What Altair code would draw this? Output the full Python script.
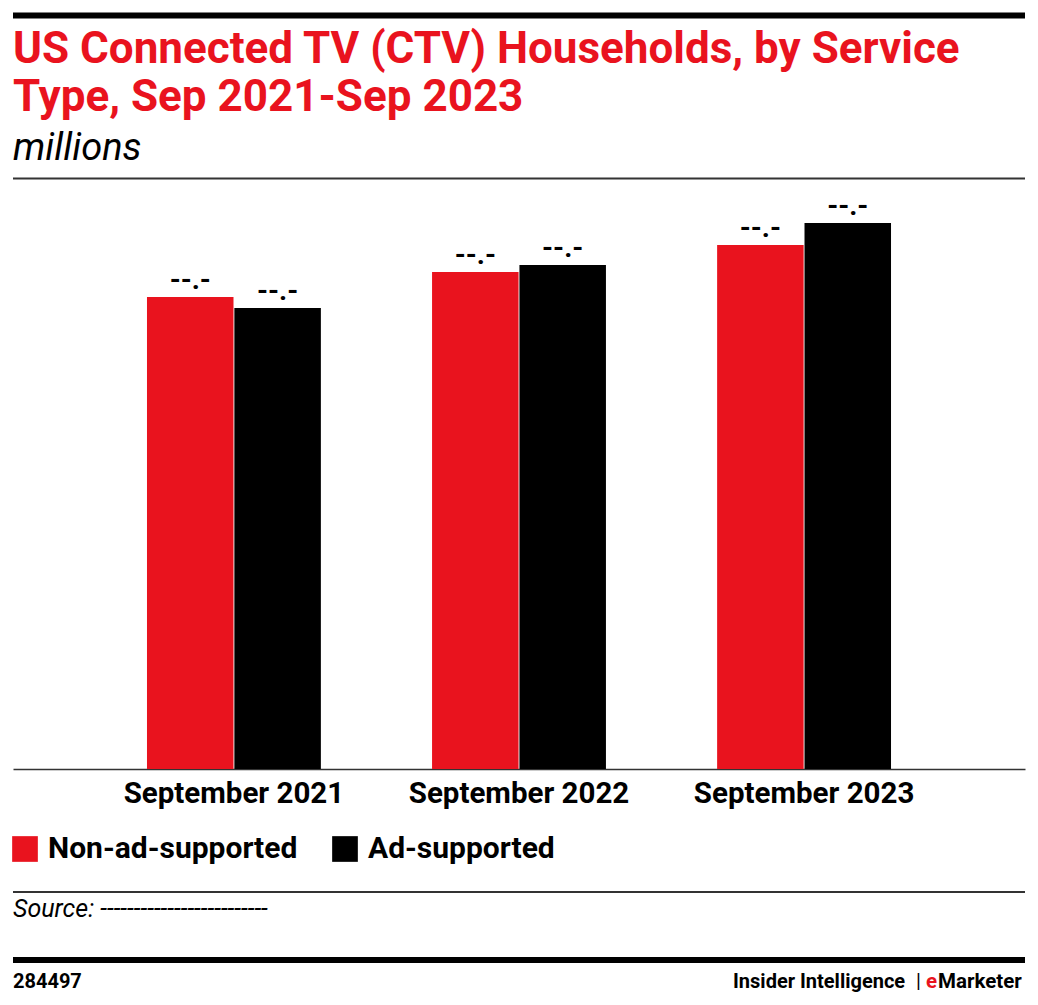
import altair as alt
import pandas as pd

# values (millions, approximate; labels are hidden in the source)
periods = ["September 2021", "September 2022", "September 2023"]
non_ad = [47.2, 49.7, 52.4]
ad = [46.1, 50.4, 54.6]
series = ["Non-ad-supported", "Ad-supported"]
colors = ["#E9131E", "#000000"]

rows = []
for p, a, b in zip(periods, non_ad, ad):
    rows.append({"period": p, "series": series[0], "value": a, "label": "--.-"})
    rows.append({"period": p, "series": series[1], "value": b, "label": "--.-"})
df = pd.DataFrame(rows)

W, H = 1012, 579
FONT = "Roboto"

x = alt.X("period:N", sort=periods, title=None,
          scale=alt.Scale(paddingInner=0.39, paddingOuter=0.47),
          axis=alt.Axis(labelAngle=0, labelFontSize=29.5, labelFontWeight="bold",
                        labelColor="#000", labelFont=FONT, labelPadding=10,
                        labelLimit=0, domainColor="#333", domainWidth=1.5,
                        ticks=False))
xo = alt.XOffset("series:N", sort=series, scale=alt.Scale(paddingInner=0.01))
y = alt.Y("value:Q", scale=alt.Scale(domain=[0, 57.9]), axis=None)

bars = alt.Chart(df).mark_bar().encode(
    x=x, xOffset=xo, y=y,
    color=alt.Color("series:N", sort=series,
                    scale=alt.Scale(domain=series, range=colors),
                    legend=alt.Legend(orient="none", legendX=-3, legendY=644,
                                      direction="horizontal", title=None,
                                      symbolType="square", symbolSize=660,
                                      symbolStrokeWidth=0, symbolOpacity=1,
                                      labelFontSize=30, labelFontWeight="bold",
                                      labelFont=FONT, labelColor="#000",
                                      labelLimit=0, labelOffset=8,
                                      columnPadding=32)),
)

labels = alt.Chart(df).mark_text(font=FONT, fontSize=28, fontWeight="bold",
                                 baseline="alphabetic", dy=-8, color="#000").encode(
    x=alt.X("period:N", sort=periods), xOffset=alt.XOffset("series:N", sort=series),
    y=y, text="label:N",
)


def txt(s, xp, yp, size, color="#000", weight="normal", style="normal", align="left"):
    return alt.Chart(pd.DataFrame({"t": [s]})).mark_text(
        font=FONT, fontSize=size, fontWeight=weight, fontStyle=style,
        color=color, align=align, baseline="alphabetic",
    ).encode(x=alt.value(xp), y=alt.value(yp), text="t:N")


def rule(yp, width, color="#333"):
    return alt.Chart(pd.DataFrame({"a": [0]})).mark_rule(
        color=color, strokeWidth=width).encode(
        x=alt.value(0), x2=alt.value(W), y=alt.value(yp))


red = "#E9131E"
deco = [
    rule(-174.5, 6, "#000"),
    txt("US Connected TV (CTV) Households, by Service", 0, -127, 44, red, "bold"),
    txt("Type, Sep 2021-Sep 2023", 0, -79, 44, red, "bold"),
    txt("millions", 0, -30, 38, "#000", "normal", "italic"),
    rule(-11.5, 2),
    rule(702, 2),
    txt("Source: -------------------------", 0, 727, 25, "#000", "normal", "italic"),
    rule(770, 6, "#000"),
    txt("284497", 0, 798, 20, "#000", "bold"),
    txt("Insider Intelligence", 720, 798, 20, "#000", "bold"),
    txt("|", 903, 798, 20, "#000", "normal"),
    txt("e", 913, 798, 20.5, red, "bold"),
    txt("Marketer", 925, 798, 20.5, "#000", "bold"),
]

chart = alt.layer(bars, labels, *deco).properties(
    width=W, height=H,
    padding={"left": 5, "top": 182, "right": 5, "bottom": 228},
    autosize=alt.AutoSizeParams(type="none"),
).configure_view(stroke="transparent")

chart.save("out.html", embed_options={"renderer": "svg", "actions": False})
